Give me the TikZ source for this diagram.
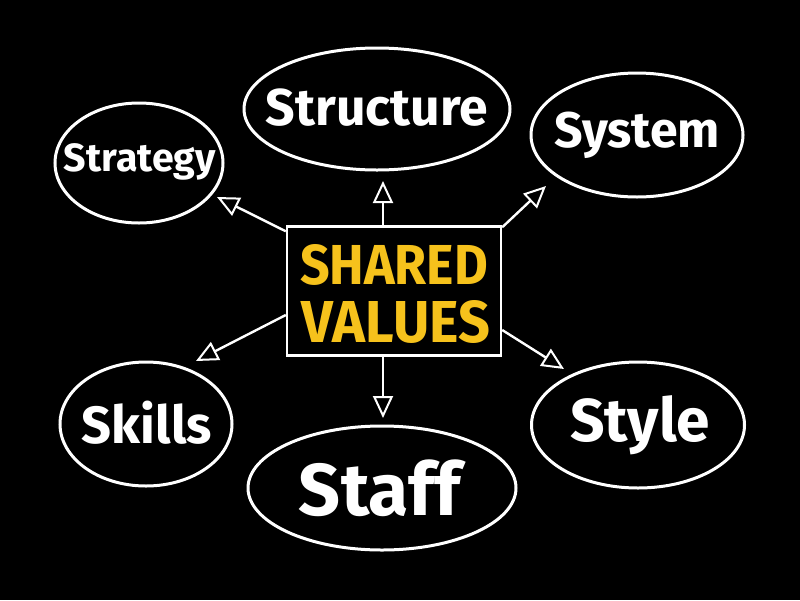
\documentclass[tikz,border=0pt]{standalone}
\usepackage{fontspec}
\setmainfont{Fira Sans}
\usetikzlibrary{arrows.meta,shapes.geometric}
\definecolor{goldtext}{HTML}{F6C21C}
\tikzset{
  bubble/.style={draw=white, line width=3pt, ellipse, inner sep=0pt},
  label/.style={text=white, inner sep=0pt, font=\fontsize{40}{44}\selectfont\bfseries},
  core text/.style={text=goldtext, inner sep=0pt, font=\fontsize{50}{52}\selectfont\bfseries},
  link/.style={draw=white, line width=2.4pt, -{Triangle[open, length=22pt, width=20pt, line width=2pt, fill=black]}},
}
\begin{document}
\begin{tikzpicture}[x=1pt,y=-1pt]
\fill[black] (0,0) rectangle (800,600);
\useasboundingbox (0,0) rectangle (800,600);
% centre box
\node[draw=white, line width=2.4pt, minimum width=214pt, minimum height=129pt, inner sep=0pt] (core) at (394,291) {};
\node[core text] (shared) at (394,265) {\resizebox{188pt}{40pt}{SHARED}};
\node[core text] (values) at (396,322) {\resizebox{188pt}{42pt}{VALUES}};
% ellipses
\node[bubble, minimum width=168pt, minimum height=120pt] (strategy) at (139,163) {};
\node[bubble, minimum width=266pt, minimum height=122pt] (structure) at (377,109) {};
\node[bubble, minimum width=212pt, minimum height=124pt] (system) at (637,135) {};
\node[bubble, minimum width=172pt, minimum height=124pt] (skills) at (146,424) {};
\node[bubble, minimum width=268pt, minimum height=124pt] (staff) at (382,488) {};
\node[bubble, minimum width=213pt, minimum height=126pt] (style) at (638,425) {};
\node[label] (lstrategy) at (140,162) {\resizebox{152pt}{!}{Strategy}};
\node[label] (lstructure) at (377,108) {\resizebox{222pt}{!}{Structure}};
\node[label] (lsystem) at (637,135) {\resizebox{166pt}{!}{System}};
\node[label] (lskills) at (147,423) {\resizebox{130pt}{!}{Skills}};
\node[label] (lstaff) at (380,488) {\resizebox{162pt}{!}{Staff}};
\node[label] (lstyle) at (640,425) {\resizebox{140pt}{!}{Style}};
% arrow ends
\coordinate (tStruct) at (383,181);
\coordinate (tStrat) at (217,197);
\coordinate (tSys) at (546,186);
\coordinate (tSkills) at (196,361);
\coordinate (tStyle) at (564,369);
\coordinate (tStaff) at (383,418);
\draw[link] (core.north -| tStruct) -- (tStruct);
\draw[link] (core.north west) ++(0,6) -- (tStrat);
\draw[link] (core.north east) ++(0,2) -- (tSys);
\draw[link] (core.west) ++(0,24) -- (tSkills);
\draw[link] (core.east) ++(0,39) -- (tStyle);
\draw[link] (core.south -| tStaff) -- (tStaff);
\end{tikzpicture}
\end{document}
